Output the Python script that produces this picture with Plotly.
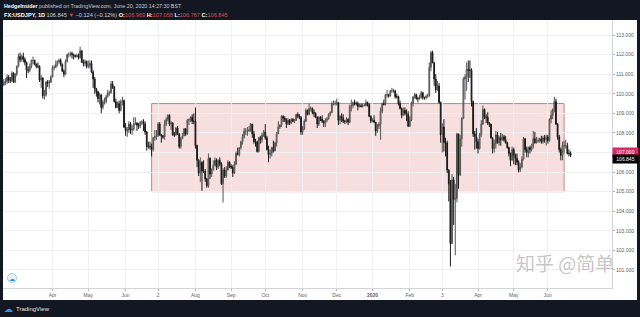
import plotly.graph_objects as go
import pandas as pd

# ---------------- data (USD/JPY daily) ----------------
start_date = "2019-02-18"
end_date = "2020-06-19"
first_open = 110.45

closes = [
    # Feb 2019
    110.60, 110.62, 110.85, 110.70, 110.68, 111.05, 110.60, 111.00, 111.39,
    # Mar 2019
    111.90, 111.75, 111.90, 111.75, 111.60, 111.20, 111.20, 111.40, 111.70, 111.70, 111.50,
    111.40, 111.40, 110.70, 110.80, 109.90, 109.95, 110.60, 110.55, 110.60, 110.85,
    # Apr 2019
    111.35, 111.35, 111.50, 111.65, 111.70, 111.50, 111.15, 111.00, 111.65, 112.00, 112.00,
    112.05, 112.00, 111.95, 111.90, 111.95, 111.85, 112.20, 111.60, 111.55, 111.65, 111.40,
    # May 2019
    111.45, 111.55, 111.10, 110.75, 110.25, 110.10, 109.75, 109.95, 109.30, 109.60, 109.60, 109.85,
    110.05, 110.05, 110.50, 110.35, 109.60, 109.30, 109.50, 109.15, 109.60, 109.65, 108.30,
    # Jun 2019
    108.10, 108.15, 108.45, 108.15, 108.20, 108.45, 108.50, 108.40, 108.35, 108.55,
    108.55, 108.45, 108.05, 107.30, 107.30, 107.30, 107.15, 107.75, 107.80, 107.85,
    # Jul 2019
    108.45, 107.90, 107.85, 107.80, 108.45, 108.70, 108.90, 108.45, 108.50, 107.90, 107.90, 108.25,
    107.95, 107.30, 107.70, 107.85, 108.20, 107.95, 108.65, 108.70, 108.80, 108.60, 108.60,
    # Aug 2019
    107.35, 106.60, 105.95, 106.50, 106.05, 106.05, 105.65, 105.30, 106.70, 105.90, 106.10,
    106.35, 106.60, 106.25, 106.60, 106.40, 105.40, 106.10, 105.80, 106.10, 106.50, 106.30,
    # Sep 2019
    106.25, 105.95, 106.40, 106.95, 106.90, 107.25, 107.55, 107.80, 108.10, 108.10, 108.10,
    108.15, 108.45, 107.95, 107.55, 107.55, 107.05, 107.75, 107.65, 107.90, 108.05,
    # Oct 2019
    107.75, 107.15, 106.90, 106.95, 107.25, 107.10, 107.50, 107.95, 108.30, 108.40, 108.85, 108.75,
    108.65, 108.45, 108.65, 108.50, 108.70, 108.60, 108.65, 108.95, 108.85, 108.80, 108.05,
    # Nov 2019
    108.20, 108.60, 109.15, 108.95, 109.25, 109.25, 109.05, 109.00, 108.80, 108.45, 108.80,
    108.70, 108.60, 108.50, 108.65, 108.70, 108.95, 109.05, 109.50, 109.50, 109.50,
    # Dec 2019
    109.55, 108.65, 108.85, 108.75, 108.60, 108.60, 108.70, 108.55, 109.35, 109.40, 109.55,
    109.50, 109.50, 109.35, 109.40, 109.35, 109.40, 109.40, 109.55, 109.45, 108.85, 108.60,
    # Jan 2020
    108.65, 108.55, 108.10, 108.35, 108.45, 109.10, 109.50, 109.45, 109.95, 109.95, 109.90, 110.15,
    110.15, 110.15, 109.85, 109.85, 109.50, 109.25, 108.90, 109.15, 109.00, 108.95, 108.35,
    # Feb 2020
    108.65, 109.50, 109.85, 109.95, 109.75, 109.75, 109.80, 110.05, 109.80, 109.80,
    109.85, 109.90, 111.35, 112.10, 111.60, 110.75, 110.20, 110.40, 109.55, 107.90,
    # Mar 2020
    108.30, 107.50, 107.50, 106.10, 105.40, 102.35, 105.60, 104.60, 104.65, 107.95, 105.85,
    107.70, 108.75, 110.75, 110.85, 111.25, 111.20, 111.20, 109.60, 107.95, 107.80, 107.55,
    # Apr 2020
    107.20, 107.90, 108.45, 109.20, 108.80, 108.80, 108.50, 108.45, 107.75, 107.20, 107.45,
    107.90, 107.50, 107.75, 107.65, 107.80, 107.65, 107.50, 107.25, 106.95, 106.60, 107.15,
    # May 2020
    106.85, 106.70, 106.50, 106.10, 106.25, 106.65, 107.70, 107.15, 107.00, 107.25, 107.15,
    107.30, 107.70, 107.50, 107.60, 107.60, 107.70, 107.55, 107.75, 107.65, 107.80,
    # Jun 2020
    107.60, 108.70, 108.90, 109.20, 109.60, 108.45, 107.80, 107.15, 106.85, 107.35,
    107.35, 107.35, 106.95, 106.95, 106.845,
]

highs = [
    # Feb 2019
    110.75, 110.80, 111.00, 110.95, 110.85, 111.15, 111.10, 111.05, 111.45,
    # Mar 2019
    112.05, 112.10, 112.00, 112.10, 111.85, 111.65, 111.40, 111.55, 111.75, 111.90, 111.75,
    111.55, 111.60, 111.45, 110.95, 110.85, 110.20, 110.65, 110.70, 110.70, 110.95,
    # Apr 2019
    111.45, 111.45, 111.70, 111.70, 111.80, 111.80, 111.55, 111.25, 111.75, 112.05, 112.10,
    112.15, 112.15, 112.05, 112.00, 112.05, 112.05, 112.40, 112.20, 111.75, 111.75, 111.70,
    # May 2019
    111.70, 111.70, 111.70, 111.20, 110.85, 110.30, 110.15, 110.05, 109.95, 109.70, 109.80, 109.95,
    110.20, 110.15, 110.65, 110.65, 110.40, 109.75, 109.60, 109.65, 109.70, 109.85, 109.70,
    # Jun 2019
    108.50, 108.30, 108.60, 108.55, 108.40, 108.80, 108.80, 108.55, 108.50, 108.60,
    108.65, 108.70, 108.60, 108.10, 107.55, 107.55, 107.45, 107.80, 108.15, 108.15,
    # Jul 2019
    108.55, 108.55, 107.95, 107.90, 108.65, 108.80, 108.95, 108.95, 108.60, 108.55, 108.05, 108.30,
    108.35, 108.00, 107.80, 108.00, 108.25, 108.25, 108.70, 108.70, 108.85, 108.95, 109.00,
    # Aug 2019
    109.30, 107.40, 106.65, 106.75, 106.55, 106.60, 106.15, 105.70, 106.95, 106.75, 106.20,
    106.60, 106.75, 106.70, 106.65, 106.75, 106.50, 106.20, 106.25, 106.30, 106.60, 106.55,
    # Sep 2019
    106.40, 106.35, 106.55, 107.05, 107.25, 107.25, 107.60, 107.95, 108.25, 108.25, 108.30,
    108.35, 108.50, 108.45, 108.10, 107.70, 107.60, 107.80, 107.85, 108.00, 108.15,
    # Oct 2019
    108.45, 107.85, 107.35, 107.15, 107.30, 107.60, 107.55, 108.05, 108.60, 108.45, 108.90, 108.90,
    108.85, 108.75, 108.75, 108.70, 108.75, 108.75, 108.70, 108.95, 109.05, 108.95, 108.85,
    # Nov 2019
    108.35, 108.70, 109.25, 109.20, 109.50, 109.35, 109.30, 109.20, 109.05, 108.85, 108.85,
    108.85, 108.90, 108.65, 108.75, 108.80, 109.00, 109.10, 109.60, 109.65, 109.65,
    # Dec 2019
    109.75, 109.55, 108.90, 109.00, 108.95, 108.65, 108.80, 108.75, 109.45, 109.70, 109.60,
    109.70, 109.60, 109.60, 109.50, 109.50, 109.50, 109.50, 109.70, 109.60, 109.50, 108.90,
    # Jan 2020
    108.75, 108.90, 108.55, 108.45, 108.55, 109.30, 109.55, 109.70, 110.00, 110.20, 110.00, 110.20,
    110.30, 110.25, 110.20, 110.00, 109.90, 109.65, 109.30, 109.30, 109.30, 109.20, 109.10,
    # Feb 2020
    108.85, 109.60, 109.85, 110.05, 110.00, 109.85, 109.95, 110.15, 110.10, 109.85,
    109.95, 110.00, 111.60, 112.20, 112.20, 111.55, 111.00, 110.65, 110.55, 109.60,
    # Mar 2020
    108.50, 108.70, 107.75, 107.60, 106.15, 105.60, 105.90, 105.75, 105.40, 108.00, 107.95,
    107.90, 108.80, 110.85, 111.00, 111.60, 111.70, 111.70, 111.30, 109.65, 108.10, 108.25,
    # Apr 2020
    107.70, 108.00, 108.65, 109.40, 109.25, 108.95, 109.05, 108.55, 108.30, 107.75, 107.65,
    108.10, 108.05, 107.85, 108.00, 107.95, 107.90, 107.85, 107.55, 107.30, 107.00, 107.30,
    # May 2020
    107.25, 106.95, 106.95, 106.60, 106.45, 106.80, 107.80, 107.75, 107.30, 107.30, 107.35,
    107.45, 108.10, 108.05, 107.80, 107.75, 107.75, 107.85, 107.85, 107.90, 107.90,
    # Jun 2020
    107.90, 108.75, 109.15, 109.25, 109.85, 109.75, 108.50, 107.90, 107.25, 107.55,
    107.60, 107.65, 107.50, 107.15, 107.058,
]

lows = [
    # Feb 2019
    110.40, 110.45, 110.50, 110.55, 110.55, 110.60, 110.55, 110.55, 110.90,
    # Mar 2019
    111.35, 111.60, 111.65, 111.60, 111.45, 110.80, 111.05, 111.10, 111.30, 111.50, 111.45,
    111.30, 111.30, 110.60, 110.30, 109.75, 109.70, 109.85, 110.35, 110.25, 110.55,
    # Apr 2019
    110.85, 111.20, 111.30, 111.40, 111.55, 111.40, 111.10, 110.85, 110.95, 111.60, 111.85,
    111.90, 111.80, 111.75, 111.85, 111.85, 111.75, 111.80, 111.60, 111.40, 111.40, 111.30,
    # May 2019
    111.30, 111.30, 111.05, 110.30, 110.00, 109.85, 109.55, 109.45, 109.00, 109.20, 109.45, 109.50,
    109.80, 109.90, 110.00, 110.25, 109.55, 109.25, 109.30, 109.00, 109.10, 109.40, 108.25,
    # Jun 2019
    107.85, 107.80, 108.00, 107.95, 107.90, 108.10, 108.40, 108.10, 108.20, 108.25,
    108.40, 108.10, 107.90, 107.10, 107.20, 107.15, 106.80, 107.05, 107.60, 107.65,
    # Jul 2019
    107.80, 107.85, 107.50, 107.70, 107.65, 108.35, 108.60, 108.35, 108.15, 107.85, 107.80, 107.85,
    107.90, 107.20, 107.20, 107.70, 107.85, 107.85, 107.90, 108.40, 108.55, 108.45, 108.45,
    # Aug 2019
    107.20, 106.25, 105.80, 105.50, 105.05, 105.95, 105.50, 105.20, 105.20, 105.65, 105.75,
    106.10, 106.30, 106.10, 106.15, 106.30, 105.35, 104.45, 105.70, 105.70, 106.10, 106.20,
    # Sep 2019
    106.15, 105.75, 105.90, 106.35, 106.85, 106.80, 107.15, 107.40, 107.70, 107.90, 107.85,
    108.05, 108.05, 107.75, 107.45, 107.30, 107.00, 107.00, 107.45, 107.50, 107.80,
    # Oct 2019
    107.65, 107.10, 106.50, 106.70, 106.80, 107.00, 107.05, 107.30, 107.95, 108.20, 108.30, 108.55,
    108.55, 108.25, 108.40, 108.40, 108.45, 108.55, 108.50, 108.60, 108.75, 108.70, 107.90,
    # Nov 2019
    107.90, 108.15, 108.55, 108.90, 108.90, 109.10, 108.95, 108.80, 108.75, 108.25, 108.35,
    108.60, 108.50, 108.30, 108.30, 108.55, 108.70, 108.85, 109.00, 109.40, 109.40,
    # Dec 2019
    109.40, 108.40, 108.45, 108.55, 108.50, 108.45, 108.50, 108.40, 108.50, 109.10, 109.25,
    109.40, 109.40, 109.15, 109.30, 109.30, 109.30, 109.35, 109.35, 109.35, 108.80, 108.50,
    # Jan 2020
    108.55, 108.50, 107.85, 108.00, 108.20, 107.65, 109.00, 109.40, 109.40, 109.80, 109.80, 109.85,
    110.05, 110.05, 109.75, 109.75, 109.40, 109.20, 108.75, 108.85, 108.90, 108.60, 108.30,
    # Feb 2020
    108.30, 108.60, 109.35, 109.75, 109.70, 109.55, 109.70, 109.75, 109.70, 109.70,
    109.70, 109.80, 109.85, 111.15, 111.55, 110.40, 110.05, 110.15, 109.50, 107.50,
    # Mar 2020
    107.00, 107.05, 106.80, 105.95, 104.50, 101.18, 102.40, 103.30, 101.75, 104.45, 105.15,
    105.80, 107.30, 108.70, 109.70, 110.15, 110.60, 110.80, 109.35, 107.80, 107.15, 107.20,
    # Apr 2020
    106.95, 107.15, 107.80, 108.40, 108.70, 108.50, 108.40, 108.30, 107.70, 106.95, 107.00,
    107.20, 107.45, 107.35, 107.35, 107.60, 107.55, 107.45, 107.20, 106.80, 106.30, 106.60,
    # May 2020
    106.40, 106.35, 106.35, 105.98, 106.00, 106.20, 106.60, 107.00, 106.75, 106.75, 106.95,
    107.05, 107.20, 107.45, 107.45, 107.50, 107.50, 107.45, 107.45, 107.50, 107.35,
    # Jun 2020
    107.45, 107.55, 108.50, 108.70, 109.05, 108.40, 107.65, 107.00, 106.60, 106.60,
    106.95, 107.20, 106.90, 106.80, 106.767,
]

tick_months = ["2019-04", "2019-05", "2019-06", "2019-07", "2019-08", "2019-09", "2019-10",
               "2019-11", "2019-12", "2020-01", "2020-02", "2020-03", "2020-04", "2020-05", "2020-06"]
tick_labels = ["Apr", "May", "Jun", "2", "Aug", "Sep", "Oct", "Nov", "Dec", "<b>2020</b>",
               "Feb", "3", "Apr", "May", "Jun"]
price_ticks = [101, 102, 103, 104, 105, 106, 107, 108, 109, 110, 111, 112, 113]

box_start, box_end = "2019-06-25", "2020-06-15"
box_low, box_high = 105.0, 109.5
level_price = 107.0
last_price = 106.845
chg, chg_pct = -0.124, -0.12
o_last, h_last, l_last, c_last = 106.969, 107.058, 106.767, 106.845

# ---------------- build ----------------
dates = pd.bdate_range(start_date, end_date)
n = len(dates)
idx = list(range(n))
opens = [first_open] + closes[:-1]
opens[-1] = o_last
hi = [max(h, o, c) for h, o, c in zip(highs, opens, closes)]
lo = [min(l, o, c) for l, o, c in zip(lows, opens, closes)]

ym = list(dates.strftime("%Y-%m"))
tickvals = [ym.index(m) for m in tick_months]

def di(d):
    return int(dates.get_loc(pd.Timestamp(d)))

XR = [-0.5, 374.5]
YR = [100.08, 113.766]

fig = go.Figure(go.Candlestick(
    x=idx, open=opens, high=hi, low=lo, close=closes,
    increasing=dict(line=dict(color="#555555", width=1), fillcolor="#bdbdbd"),
    decreasing=dict(line=dict(color="#1a1a1a", width=1), fillcolor="#1a1a1a"),
    whiskerwidth=0, hoverinfo="skip",
))

L, R, T, B = 3, 28, 20, 29
W, H = 640, 317
pw, ph = W - L - R, H - T - B

def px(xp):
    return (xp - L) / pw

def py(yp):
    return (H - B - yp) / ph

shapes = [
    dict(type="rect", xref="paper", yref="paper", x0=px(3), x1=px(637), y0=py(300), y1=py(20),
         fillcolor="white", line=dict(width=0), layer="below"),
    dict(type="rect", xref="x", yref="y", x0=di(box_start), x1=di(box_end), y0=box_low, y1=box_high,
         fillcolor="rgba(228,140,140,0.28)", line=dict(color="rgba(195,120,120,0.9)", width=1), layer="below"),
    dict(type="line", xref="x", yref="y", x0=XR[0], x1=XR[1], y0=level_price, y1=level_price,
         line=dict(color="#d48fa6", width=1), layer="below"),
    dict(type="circle", xref="paper", yref="paper", x0=px(7.5), x1=px(16.5), y0=py(282.5), y1=py(273.5),
         fillcolor="#eaf3fc", line=dict(color="#8fbbe6", width=0.8)),
]

red = "#d65252"
hdr1 = ("<b>HedgeInsider</b><span style='color:#c9ccd4'> published on TradingView.com, "
        "June 20, 2020 14:27:30 BST</span>")
hdr2 = (f"<b>FX:USDJPY, 1D</b> <span style='color:#d1d4dc'>{last_price:.3f}</span> "
        f"<span style='color:{red}'>▼</span> "
        f"<span style='color:#d1d4dc'>−{abs(chg):.3f} (−{abs(chg_pct):.2f}%)</span> "
        f"<b>O:</b><span style='color:{red}'>{o_last:.3f}</span> "
        f"<b>H:</b><span style='color:{red}'>{h_last:.3f}</span> "
        f"<b>L:</b><span style='color:{red}'>{l_last:.3f}</span> "
        f"<b>C:</b><span style='color:{red}'>{c_last:.3f}</span>")

F = "Liberation Sans"
annotations = [
    dict(xref="paper", yref="paper", x=px(2), y=py(6), xanchor="left", yanchor="middle",
         text=hdr1, showarrow=False, font=dict(family=F, size=5.3, color="#ffffff")),
    dict(xref="paper", yref="paper", x=px(2), y=py(15), xanchor="left", yanchor="middle",
         text=hdr2, showarrow=False, font=dict(family=F, size=5.6, color="#ffffff")),
    dict(xref="paper", yref="paper", x=px(13.5), y=py(309), xanchor="left", yanchor="middle",
         text="TradingView", showarrow=False, font=dict(family=F, size=6, color="#e0e3eb")),
    dict(xref="paper", yref="paper", x=px(8), y=py(309), xanchor="center", yanchor="middle",
         text="☁", showarrow=False, font=dict(family="DejaVu Sans", size=9, color="#2f8fe8")),
    dict(xref="paper", yref="paper", x=px(12), y=py(278), xanchor="center", yanchor="middle",
         text="☁", showarrow=False, font=dict(family="DejaVu Sans", size=6, color="#2f8fe8")),
    dict(xref="paper", yref="paper", x=px(565), y=py(262), xanchor="center", yanchor="middle",
         text="知乎 @简单", showarrow=False,
         font=dict(family="Noto Sans CJK SC", size=19, color="rgba(150,150,150,0.55)")),
    dict(xref="paper", yref="y", x=1, y=level_price, xanchor="left", yanchor="middle",
         text=f"{level_price:.3f}", showarrow=False, bgcolor="#d62a62", borderpad=1, width=23,
         font=dict(family=F, size=5, color="white")),
    dict(xref="paper", yref="y", x=1, y=last_price, yshift=-3.6, xanchor="left", yanchor="middle",
         text=f"{last_price:.3f}", showarrow=False, bgcolor="#000000", borderpad=1, width=23,
         font=dict(family=F, size=5, color="white")),
]

fig.update_layout(
    width=W, height=H, margin=dict(l=L, r=R, t=T, b=B),
    paper_bgcolor="#131722", plot_bgcolor="white", showlegend=False,
    shapes=shapes, annotations=annotations,
    xaxis=dict(range=XR, tickmode="array", tickvals=tickvals, ticktext=tick_labels,
               tickfont=dict(family=F, size=5, color="#5d606b"), showgrid=True,
               gridcolor="#eef0f5", gridwidth=1, ticks="outside", ticklen=2, tickcolor="#b2b5be",
               showline=True, linecolor="#d1d4dc", zeroline=False, rangeslider=dict(visible=False),
               fixedrange=True),
    yaxis=dict(range=YR, side="right", tickmode="array", tickvals=price_ticks, tickformat=".3f",
               tickfont=dict(family=F, size=5, color="#5d606b"), showgrid=True,
               gridcolor="#eef0f5", gridwidth=1, ticks="outside", ticklen=2, tickcolor="#b2b5be",
               showline=True, linecolor="#d1d4dc", zeroline=False, fixedrange=True),
)

fig.write_html("out.html")
